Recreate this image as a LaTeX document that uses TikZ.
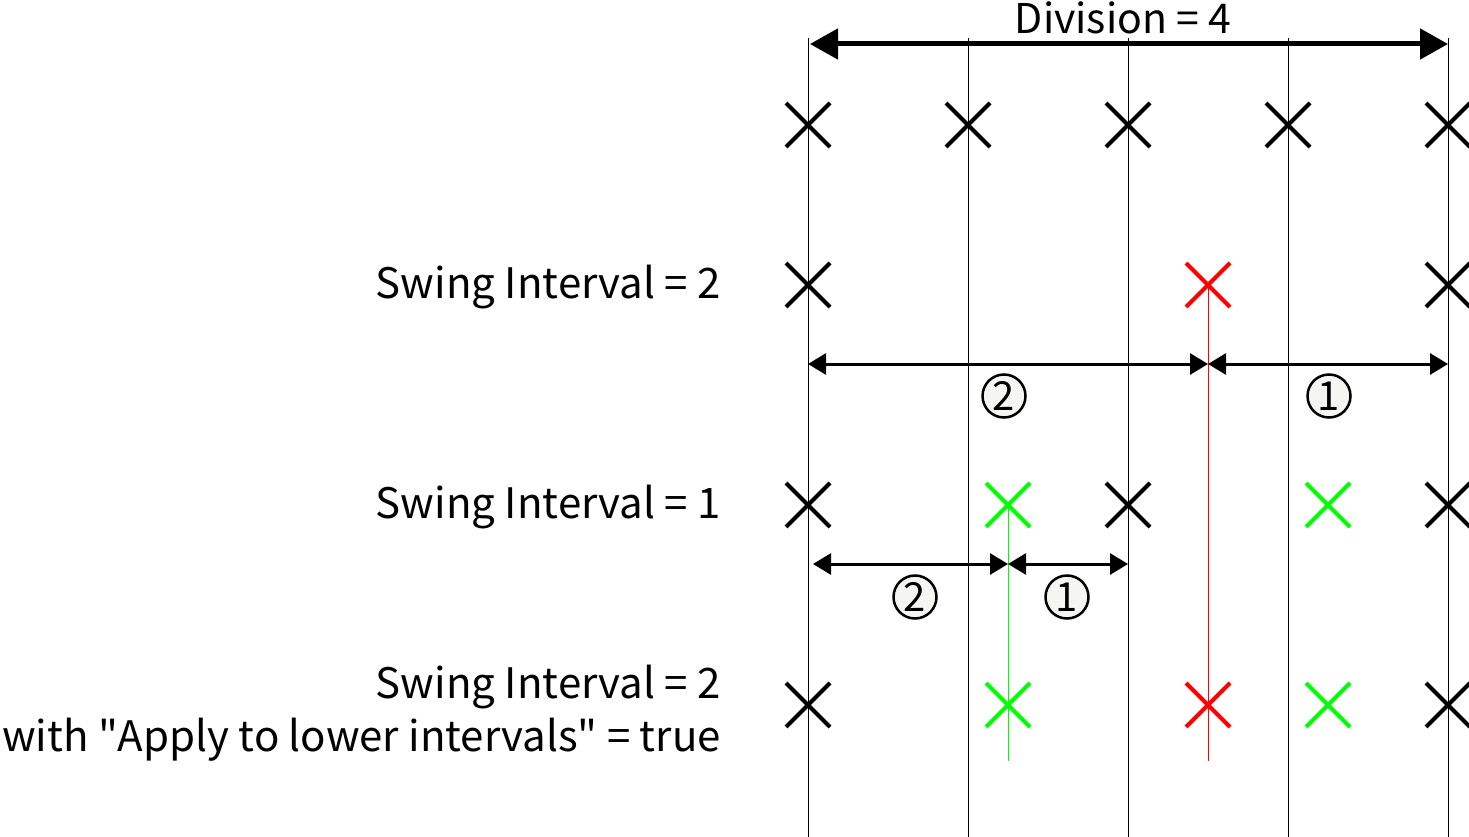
\documentclass[tikz,border=0pt]{standalone}
\usepackage{fontspec}
\setmainfont{Noto Sans CJK JP}
\usetikzlibrary{arrows.meta,shapes.misc}
\definecolor{xred}{RGB}{255,0,0}
\definecolor{xgreen}{RGB}{0,255,0}
\definecolor{cfill}{RGB}{245,246,242}
\newcommand{\straightquote}{\XeTeXglyph\XeTeXcharglyph"22\relax}
\begin{document}
\begin{tikzpicture}[x=1pt,y=-1pt,
  xmark/.style={cross out,draw,line width=4pt,minimum size=40pt,inner sep=0pt},
  grid/.style={line width=1pt},
  bigarrow/.style={line width=5pt,{Triangle[length=28pt,width=30pt]}-{Triangle[length=28pt,width=30pt]}},
  dimarrow/.style={line width=3pt,{Triangle[length=18pt,width=21pt]}-{Triangle[length=18pt,width=21pt]}},
  circnum/.style={circle,draw,line width=2.5pt,fill=cfill,minimum size=43pt,inner sep=0pt,font=\fontsize{40}{40}\selectfont},
  label/.style={font=\fontsize{42}{48}\selectfont,inner sep=0pt,align=right}]
\useasboundingbox (0,0) rectangle (1469,837);
% grid lines
\foreach \i/\x in {0/808,1/968,2/1128,3/1288,4/1448}{
  \coordinate (t\i) at (\x,38);
  \coordinate (b\i) at (\x,837);
  \draw[grid] (t\i) -- (b\i);
}
% division arrow
\coordinate (dl) at (810,44);
\coordinate (dr) at (1448,44);
\draw[bigarrow] (dl) -- (dr);
\node[label,anchor=base,font=\fontsize{41}{46}\selectfont] (div) at (1123,34) {Division = 4};
% row 1
\foreach \i/\x in {0/808,1/968,2/1128,3/1288,4/1448}{
  \node[xmark] (a\i) at (\x,125) {};
}
% red and green vertical lines
\coordinate (rtop) at (1208,285);
\coordinate (rbot) at (1208,761);
\draw[xred,line width=1pt] (rtop) -- (rbot);
\coordinate (gtop) at (1008,505);
\coordinate (gbot) at (1008,761);
\draw[xgreen,line width=1pt] (gtop) -- (gbot);
% row 2
\node[label,anchor=base east] (l2) at (721,298) {Swing Interval = 2};
\node[xmark] (s0) at (808,285) {};
\node[xmark,xred] (s1) at (1208,285) {};
\node[xmark] (s2) at (1448,285) {};
\coordinate (p0) at (808,364);
\coordinate (p1) at (1208,364);
\coordinate (p2) at (1448,364);
\draw[dimarrow] (p0) -- (p1);
\draw[dimarrow] (p1) -- (p2);
\node[circnum] (c2a) at (1004,396) {2};
\node[circnum] (c1a) at (1329,396) {1};
% row 3
\node[label,anchor=base east] (l3) at (721,518) {Swing Interval = 1};
\node[xmark] (u0) at (808,505) {};
\node[xmark,xgreen] (u1) at (1008,505) {};
\node[xmark] (u2) at (1128,505) {};
\node[xmark,xgreen] (u3) at (1328,505) {};
\node[xmark] (u4) at (1448,505) {};
\coordinate (q0) at (813,564);
\coordinate (q1) at (1008,564);
\coordinate (q2) at (1128,564);
\draw[dimarrow] (q0) -- (q1);
\draw[dimarrow] (q1) -- (q2);
\node[circnum] (c2b) at (915,597) {2};
\node[circnum] (c1b) at (1067,597) {1};
% row 4
\node[label,anchor=base east] (l4a) at (721,698) {Swing Interval = 2};
\node[label,anchor=base east] (l4b) at (721,751) {with \straightquote Apply to lower intervals\straightquote{} = true};
\node[xmark] (v0) at (808,705) {};
\node[xmark,xgreen] (v1) at (1008,705) {};
\node[xmark,xred] (v2) at (1208,705) {};
\node[xmark,xgreen] (v3) at (1328,705) {};
\node[xmark] (v4) at (1448,705) {};
\end{tikzpicture}
\end{document}
